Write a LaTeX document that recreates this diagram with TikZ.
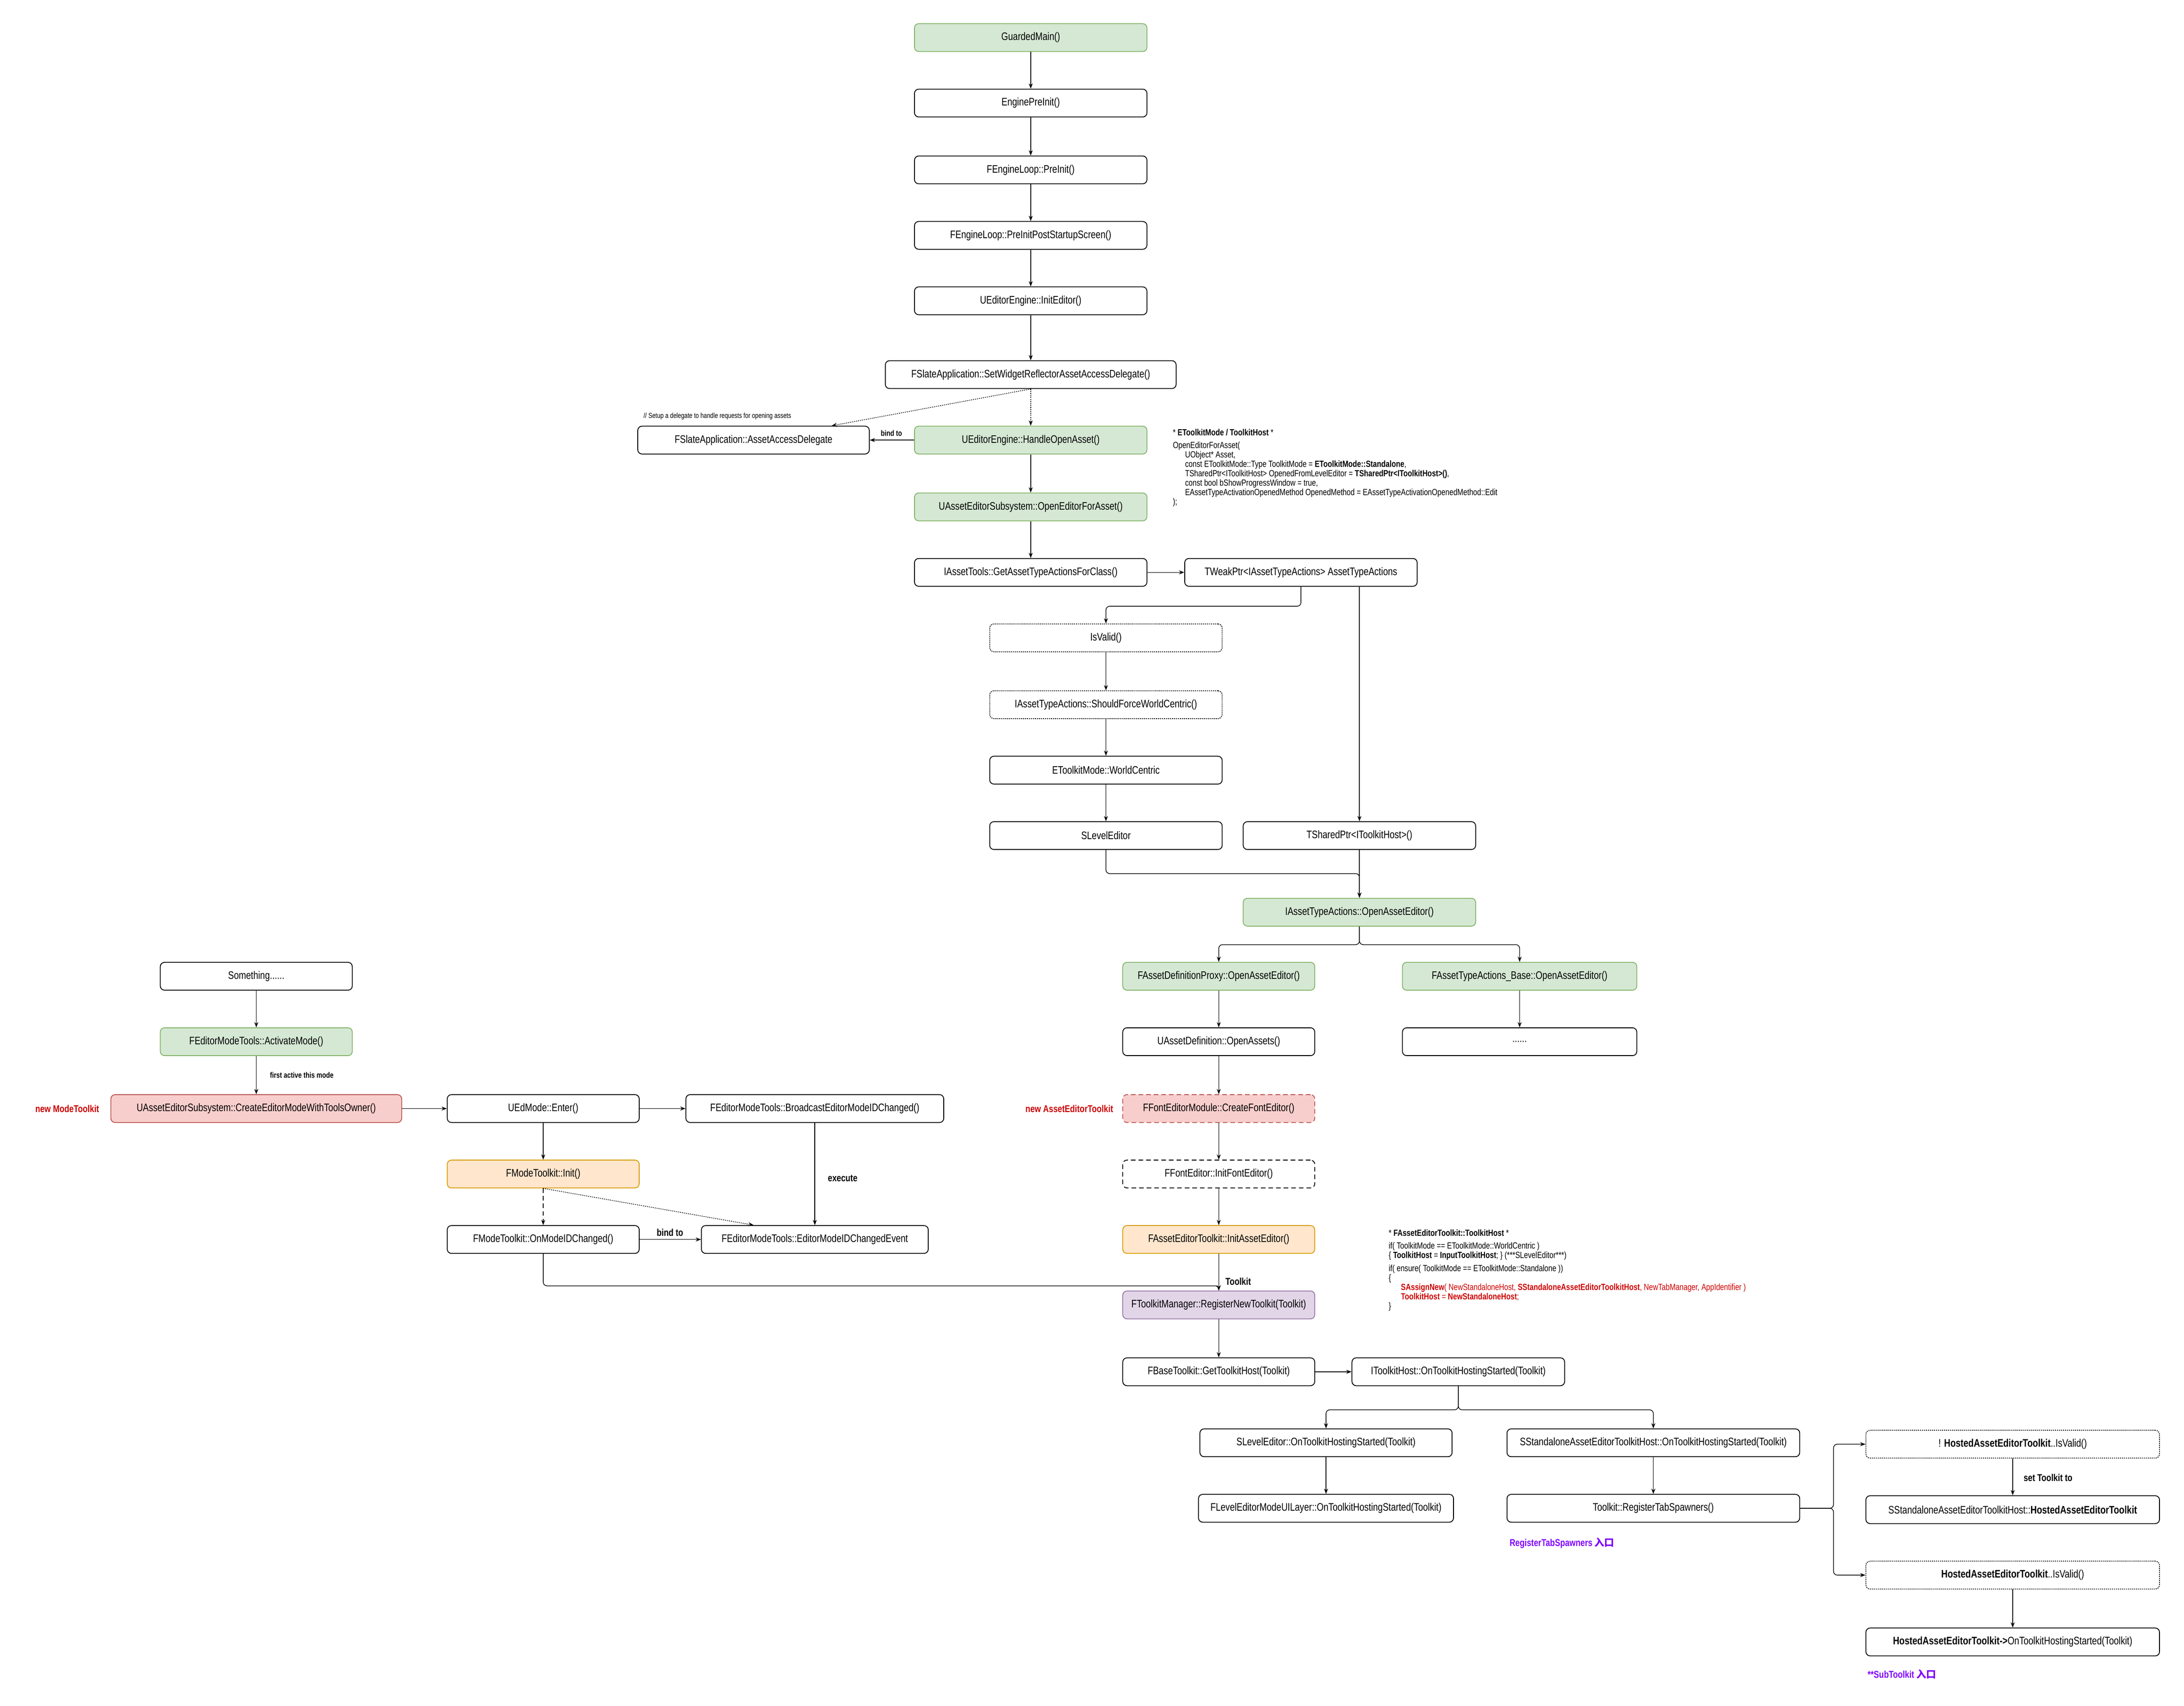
\documentclass[tikz,border=0pt]{standalone}
\usepackage{fontspec}
\setmainfont{Liberation Sans}[FakeStretch=0.8]
\newfontfamily\cjk{Noto Sans CJK SC}
\usepackage{xcolor}
\usepackage{tikz}
\usetikzlibrary{arrows.meta,positioning}

\definecolor{gfill}{HTML}{D5E8D4}\definecolor{gline}{HTML}{82B366}
\definecolor{rfill}{HTML}{F8CECC}\definecolor{rline}{HTML}{B85450}
\definecolor{ofill}{HTML}{FFE6CC}\definecolor{oline}{HTML}{D79B00}
\definecolor{pfill}{HTML}{E1D5E7}\definecolor{pline}{HTML}{9673A6}
\definecolor{redtxt}{HTML}{CC0000}\definecolor{purtxt}{HTML}{7F00FF}

\tikzset{
  box/.style={draw=black, line width=2.5pt, rounded corners=0.45cm, fill=white,
    minimum height=2.96cm, minimum width=#1, inner sep=0pt,
    font=\fontsize{33}{36}\selectfont},
  box/.default=24.7cm,
  green/.style={fill=gfill, draw=gline},
  red/.style={fill=rfill, draw=rline, dash pattern=on 14pt off 9pt},
  orange/.style={fill=ofill, draw=oline},
  purple/.style={fill=pfill, draw=pline},
  dots/.style={dash pattern=on 3pt off 3pt},
  dashline/.style={dash pattern=on 14pt off 9pt},
  arr/.style={-{Stealth[length=16pt,width=12pt]}, line width=2pt},
  lbl/.style={font=\fontsize{30}{33}\selectfont\bfseries},
  note/.style={align=left, anchor=north west, inner sep=0pt,
    font=\fontsize{27}{28.5}\selectfont},
}

\begin{document}
\begin{tikzpicture}[x=0.148cm, y=-0.148cm]
  \useasboundingbox (0,0) rectangle (1568,1225);

  % main column
  \node[box, green] (gmain) at (740,27) {GuardedMain()};
  \node[box] (preinit) at (740,74) {EnginePreInit()};
  \node[box] (lpre) at (740,122) {FEngineLoop::PreInit()};
  \node[box] (lpost) at (740,169) {FEngineLoop::PreInitPostStartupScreen()};
  \node[box] (inited) at (740,216) {UEditorEngine::InitEditor()};
  \node[box=30.9cm] (setw) at (740,269) {FSlateApplication::SetWidgetReflectorAssetAccessDelegate()};
  \node[box, green] (hopen) at (740,316) {UEditorEngine::HandleOpenAsset()};
  \node[box=24.6cm] (adel) at (541,316) {FSlateApplication::AssetAccessDelegate};
  \node[box, green] (oefa) at (740,364) {UAssetEditorSubsystem::OpenEditorForAsset()};
  \node[box] (gata) at (740,411) {IAssetTools::GetAssetTypeActionsForClass()};
  \node[box] (weak) at (934,411) {TWeakPtr<IAssetTypeActions> AssetTypeActions};
  \node[box, dots] (valid) at (794,458) {IsValid()};
  \node[box, dots] (force) at (794,506) {IAssetTypeActions::ShouldForceWorldCentric()};
  \node[box] (world) at (794,553) {EToolkitMode::WorldCentric};
  \node[box] (slevel) at (794,600) {SLevelEditor};
  \node[box] (tsp) at (976,600) {TSharedPtr<IToolkitHost>()};
  \node[box, green] (oae) at (976,655) {IAssetTypeActions::OpenAssetEditor()};
  \node[box=20.4cm, green] (proxy) at (875,701) {FAssetDefinitionProxy::OpenAssetEditor()};
  \node[box=24.9cm, green] (base) at (1091,701) {FAssetTypeActions\_Base::OpenAssetEditor()};
  \node[box=20.4cm] (opens) at (875,748) {UAssetDefinition::OpenAssets()};
  \node[box=24.9cm] (etc) at (1091,748) {......};
  \node[box=20.4cm, red] (cfe) at (875,796) {FFontEditorModule::CreateFontEditor()};
  \node[box=20.4cm, dashline] (ife) at (875,843) {FFontEditor::InitFontEditor()};
  \node[box=20.4cm, orange] (iae) at (875,890) {FAssetEditorToolkit::InitAssetEditor()};
  \node[box=20.4cm, purple] (rnt) at (875,937) {FToolkitManager::RegisterNewToolkit(Toolkit)};
  \node[box=20.4cm] (gth) at (875,985) {FBaseToolkit::GetToolkitHost(Toolkit)};
  \node[box=22.6cm] (ohs) at (1047,985) {IToolkitHost::OnToolkitHostingStarted(Toolkit)};
  \node[box=26.8cm] (slohs) at (952,1036) {SLevelEditor::OnToolkitHostingStarted(Toolkit)};
  \node[box=31.1cm] (ssohs) at (1187,1036) {SStandaloneAssetEditorToolkitHost::OnToolkitHostingStarted(Toolkit)};
  \node[box=27.1cm] (uiohs) at (952,1083) {FLevelEditorModeUILayer::OnToolkitHostingStarted(Toolkit)};
  \node[box=31.1cm] (rts) at (1187,1083) {Toolkit::RegisterTabSpawners()};
  \node[box=31.2cm, dots] (nvalid) at (1445,1037) {! \textbf{HostedAssetEditorToolkit}..IsValid()};
  \node[box=31.2cm] (hosted) at (1445,1084) {SStandaloneAssetEditorToolkitHost::\textbf{HostedAssetEditorToolkit}};
  \node[box=31.2cm, dots] (hvalid) at (1445,1131) {\textbf{HostedAssetEditorToolkit}..IsValid()};
  \node[box=31.2cm] (hohs) at (1445,1179) {\textbf{HostedAssetEditorToolkit->}OnToolkitHostingStarted(Toolkit)};

  % editor mode branch
  \node[box=20.4cm] (something) at (184,701) {Something......};
  \node[box=20.4cm, green] (activate) at (184,748) {FEditorModeTools::ActivateMode()};
  \node[box=30.9cm, fill=rfill, draw=rline] (create) at (184,796) {UAssetEditorSubsystem::CreateEditorModeWithToolsOwner()};
  \node[box=20.4cm] (enter) at (390,796) {UEdMode::Enter()};
  \node[box=27.4cm] (bcast) at (585,796) {FEditorModeTools::BroadcastEditorModeIDChanged()};
  \node[box=20.4cm, orange] (mtinit) at (390,843) {FModeToolkit::Init()};
  \node[box=20.4cm] (onmode) at (390,890) {FModeToolkit::OnModeIDChanged()};
  \node[box=24.1cm] (event) at (585,890) {FEditorModeTools::EditorModeIDChangedEvent};

  % texts
  \node[anchor=west, inner sep=0pt, font=\fontsize{22}{24}\selectfont] (cmt) at (462,299) {// Setup a delegate to handle requests for opening assets};
  \node[lbl, font=\fontsize{24}{26}\selectfont\bfseries] (bind1) at (640,311) {bind to};
  \node[lbl] (bind2) at (481,885) {bind to};
  \node[lbl] (exec) at (605,846) {execute};
  \node[lbl, anchor=west] (tk) at (879,920) {Toolkit};
  \node[lbl, anchor=west] (settk) at (1452,1061) {set Toolkit to};
  \node[lbl, anchor=west, font=\fontsize{24}{26}\selectfont\bfseries] (first) at (193,772) {first active this mode};
  \node[lbl, anchor=east, text=redtxt] (newmode) at (72,796) {new ModeToolkit};
  \node[lbl, anchor=east, text=redtxt] (newaet) at (800,796) {new AssetEditorToolkit};
  \node[lbl, anchor=west, text=purtxt] (rtsin) at (1083,1108) {RegisterTabSpawners {\cjk 入口}};
  \node[lbl, anchor=west, text=purtxt] (subin) at (1340,1202) {**SubToolkit {\cjk 入口}};
  \node[note] (note1) at (842,308) {* \textbf{EToolkitMode / ToolkitHost} *\\[10pt]
    OpenEditorForAsset(\\
    \hspace*{1.3cm}UObject* Asset,\\
    \hspace*{1.3cm}const EToolkitMode::Type ToolkitMode = \textbf{EToolkitMode::Standalone},\\
    \hspace*{1.3cm}TSharedPtr<IToolkitHost> OpenedFromLevelEditor = \textbf{TSharedPtr<IToolkitHost>()},\\
    \hspace*{1.3cm}const bool bShowProgressWindow = true,\\
    \hspace*{1.3cm}EAssetTypeActivationOpenedMethod OpenedMethod = EAssetTypeActivationOpenedMethod::Edit\\
    );};
  \node[note] (note2) at (997,883) {* \textbf{FAssetEditorToolkit::ToolkitHost} *\\[10pt]
    if( ToolkitMode == EToolkitMode::WorldCentric )\\
    \{ \textbf{ToolkitHost} = \textbf{InputToolkitHost}; \} (***SLevelEditor***)\\[10pt]
    if( ensure( ToolkitMode == EToolkitMode::Standalone ))\\
    \{\\
    \hspace*{1.3cm}\textcolor{redtxt}{\textbf{SAssignNew}( NewStandaloneHost, \textbf{SStandaloneAssetEditorToolkitHost}, NewTabManager, AppIdentifier )}\\
    \hspace*{1.3cm}\textcolor{redtxt}{\textbf{ToolkitHost} = \textbf{NewStandaloneHost};}\\
    \}};

  % connectors
  \draw[arr] (gmain) -- (preinit);
  \draw[arr] (preinit) -- (lpre);
  \draw[arr] (lpre) -- (lpost);
  \draw[arr] (lpost) -- (inited);
  \draw[arr] (inited) -- (setw);
  \draw[arr, dots] (setw) -- (hopen);
  \draw[arr, dots] (setw.south) -- ([xshift=8.3cm]adel.north);
  \draw[arr] (hopen) -- (adel);
  \draw[arr] (hopen) -- (oefa);
  \draw[arr] (oefa) -- (gata);
  \draw[arr] (gata) -- (weak);
  \draw[arr, rounded corners=0.4cm] (weak.south) -- ++(0,14) -| (valid.north);
  \draw[arr] (weak.south -| tsp.north) -- (tsp.north);
  \draw[arr] (valid) -- (force);
  \draw[arr] (force) -- (world);
  \draw[arr] (world) -- (slevel);
  \draw[arr, rounded corners=0.4cm] (slevel.south) -- ++(0,17) -| (oae.north);
  \draw[arr] (tsp) -- (oae);
  \draw[arr, rounded corners=0.4cm] (oae.south) -- ++(0,13) -| (proxy.north);
  \draw[arr, rounded corners=0.4cm] (oae.south) -- ++(0,13) -| (base.north);
  \draw[arr] (proxy) -- (opens);
  \draw[arr] (base) -- (etc);
  \draw[arr] (opens) -- (cfe);
  \draw[arr] (cfe) -- (ife);
  \draw[arr] (ife) -- (iae);
  \draw[arr] (iae) -- (rnt);
  \draw[arr] (rnt) -- (gth);
  \draw[arr] (gth) -- (ohs);
  \draw[arr, rounded corners=0.4cm] (ohs.south) -- ++(0,17) -| (slohs.north);
  \draw[arr, rounded corners=0.4cm] (ohs.south) -- ++(0,17) -| (ssohs.north);
  \draw[arr] (slohs) -- (uiohs);
  \draw[arr] (ssohs) -- (rts);
  \draw[arr, rounded corners=0.4cm] (rts.east) -- ++(24,0) |- (nvalid.west);
  \draw[arr, rounded corners=0.4cm] (rts.east) -- ++(24,0) |- (hvalid.west);
  \draw[arr] (nvalid) -- (hosted);
  \draw[arr] (hvalid) -- (hohs);

  \draw[arr] (something) -- (activate);
  \draw[arr] (activate) -- (create);
  \draw[arr] (create) -- (enter);
  \draw[arr] (enter) -- (bcast);
  \draw[arr] (enter) -- (mtinit);
  \draw[arr] (bcast) -- (event);
  \draw[arr, dashline] (mtinit) -- (onmode);
  \draw[arr, dots] (mtinit.south) -- ([xshift=-6.5cm]event.north);
  \draw[arr] (onmode) -- (event);
  \draw[arr, rounded corners=0.4cm] (onmode.south) -- ++(0,23) -| (rnt.north);
\end{tikzpicture}
\end{document}
